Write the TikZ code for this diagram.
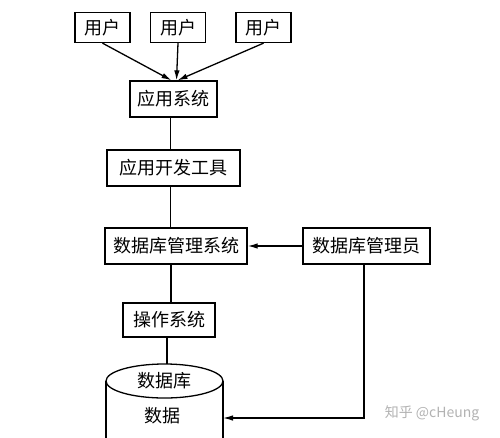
\documentclass[tikz,border=0pt]{standalone}
\usepackage{fontspec}
\setmainfont{Noto Sans CJK SC}
\usetikzlibrary{arrows.meta}
\begin{document}
\begin{tikzpicture}[x=1pt,y=-1pt,
  box/.style={draw,line width=1.3pt,inner sep=0pt,font=\fontsize{18}{18}\selectfont,anchor=center},
  con/.style={line width=1.3pt},
  arr/.style={line width=1.3pt,-{Latex[length=10pt,width=5.5pt]}}]
\useasboundingbox (0,0) rectangle (500,437);
\clip (0,0) rectangle (500,437);
% users
\node[box,minimum width=55pt,minimum height=30pt] (u1) at (102.5,27.5) {用户};
\node[box,minimum width=55pt,minimum height=30pt] (u2) at (178,27.5) {用户};
\node[box,minimum width=55pt,minimum height=30pt] (u3) at (263.5,27.5) {用户};
\node[box,minimum width=87pt,minimum height=36pt] (app) at (173.5,99) {应用系统};
\node[box,minimum width=133pt,minimum height=36pt] (dev) at (173.5,168) {应用开发工具};
\node[box,minimum width=142pt,minimum height=36pt] (dbms) at (176,246) {数据库管理系统};
\node[box,minimum width=127pt,minimum height=36pt] (dba) at (366.5,246) {数据库管理员};
\node[box,minimum width=92pt,minimum height=34pt] (os) at (169,320) {操作系统};
% cylinder
\coordinate (dbtop) at (167,364);
\draw[con,fill=white] (106,381) -- (106,445) -- (223,445) -- (223,381);
\draw[con] (164.5,381) ellipse [x radius=58.5pt, y radius=17pt];
\node[font=\fontsize{18}{18}\selectfont] (dbl) at (164.5,381) {数据库};
\node[font=\fontsize{18}{18}\selectfont] (dbd) at (162,416) {数据};
\coordinate (dbR) at (223,418);
% connectors
\draw[arr] (u1.south) -- ([xshift=-2pt]app.north);
\draw[arr] (u2.south) -- ([xshift=3pt]app.north);
\draw[arr] (u3.south) -- ([xshift=4pt]app.north);
\draw[con] ([xshift=-3pt]app.south) -- ([xshift=-3pt]dev.north);
\draw[con] ([xshift=-3pt]dev.south) -- ([xshift=-5.5pt]dbms.north);
\draw[arr] (dba.west) -- (dbms.east);
\draw[con] ([xshift=-5pt]dbms.south) -- ([xshift=2pt]os.north);
\draw[con] ([xshift=-2pt]os.south) -- (dbtop);
\draw[arr] ([xshift=-2.5pt]dba.south) -- (364,418) -- (dbR);
% watermark
\node[text=black!30,font=\fontsize{14}{14}\selectfont] (wm) at (432,413) {知乎 @cHeung};
\end{tikzpicture}
\end{document}
